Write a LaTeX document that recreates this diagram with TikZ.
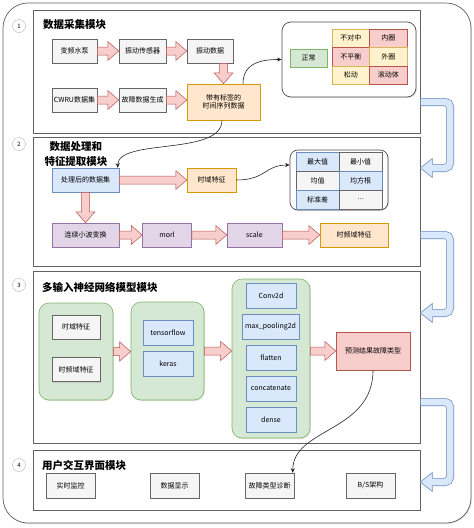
\documentclass[tikz,border=0pt]{standalone}
\usepackage{fontspec}
\setmainfont{Noto Sans CJK SC}
\usetikzlibrary{shadows,calc,arrows.meta}
\definecolor{gyf}{HTML}{F5F5F5}\definecolor{gys}{HTML}{666666}
\definecolor{blf}{HTML}{DAE8FC}\definecolor{bls}{HTML}{6C8EBF}
\definecolor{grf}{HTML}{D5E8D4}\definecolor{grs}{HTML}{82B366}
\definecolor{orf}{HTML}{FFE6CC}\definecolor{ors}{HTML}{D79B00}
\definecolor{ylf}{HTML}{FFF2CC}\definecolor{yls}{HTML}{D6B656}
\definecolor{rdf}{HTML}{F8CECC}\definecolor{rds}{HTML}{B85450}
\definecolor{puf}{HTML}{E1D5E7}\definecolor{pus}{HTML}{9673A6}
\tikzset{
 shd/.style={drop shadow={opacity=0.22,shadow xshift=0.9pt,shadow yshift=-1.1pt}},
 sz/.style 2 args={minimum width=#1,minimum height=#2},
 bx/.style={rectangle,draw,inner sep=1pt,align=center,line width=0.5pt,font=\fontsize{7}{8.5}\selectfont},
 grayb/.style={bx,shd,fill=gyf,draw=gys},
 blueb/.style={bx,shd,fill=blf,draw=bls},
 greenb/.style={bx,shd,fill=grf,draw=grs},
 orangeb/.style={bx,shd,fill=orf,draw=ors},
 redb/.style={bx,shd,fill=rdf,draw=rds},
 purpleb/.style={bx,shd,fill=puf,draw=pus},
 cellY/.style={bx,fill=ylf,draw=yls,sz={37.5}{18.5}},
 cellR/.style={bx,fill=rdf,draw=rds,sz={37.5}{18.5}},
 cellB/.style={bx,fill=blf,draw=bls,sz={43}{19}},
 cellG/.style={bx,fill=gyf,draw=gys,sz={43}{19}},
 grp/.style={rectangle,draw=black!70,fill=white,line width=0.7pt,rounded corners=9pt,shd},
 ggrp/.style={rectangle,draw=grs,fill=grf,line width=0.6pt,rounded corners=10pt,shd},
 modb/.style={rectangle,draw=black!62,fill=white,line width=0.7pt,shd},
 ttl/.style={font=\bfseries\fontsize{10.5}{15}\selectfont,inner sep=0pt,align=center},
 numc/.style={circle,draw=black!30,fill=white,minimum size=13pt,inner sep=0pt,font=\fontsize{6}{6}\selectfont},
 pinkar/.style={fill=rdf,draw=rds,line width=0.5pt,line join=miter},
 conn/.style={draw=black!85,line width=0.6pt,-{Stealth[length=4.5pt,width=4pt]}},
}
\newcommand\rar[2]{\draw[pinkar] let \p1=#1, \p2=#2 in
  (\x1,\y1+4pt) -- (\x2-11pt,\y1+4pt) -- (\x2-11pt,\y1+9.5pt) -- (\x2,\y1) --
  (\x2-11pt,\y1-9.5pt) -- (\x2-11pt,\y1-4pt) -- (\x1,\y1-4pt) -- cycle;}
\newcommand\dar[2]{\draw[pinkar] let \p1=#1, \p2=#2 in
  (\x1-4pt,\y1) -- (\x1-4pt,\y2+11pt) -- (\x1-9.5pt,\y2+11pt) -- (\x1,\y2) --
  (\x1+9.5pt,\y2+11pt) -- (\x1+4pt,\y2+11pt) -- (\x1+4pt,\y1) -- cycle;}
\newcommand\pipe[3]{%
 \draw[bls,line width=8pt,rounded corners=5pt] let \p1=#1, \p2=#3, \p3=#2 in
   (\x1,\y1) -- (\x3,\y1) -- (\x3,\y2) -- (\x2+11pt,\y2);
 \filldraw[fill=blf,draw=bls,line width=0.6pt,line join=miter] let \p2=#3 in
   (\x2+12pt,\y2+9.5pt) -- (\x2,\y2) -- (\x2+12pt,\y2-9.5pt) -- cycle;
 \draw[blf,line width=6.6pt,rounded corners=5pt] let \p1=#1, \p2=#3, \p3=#2 in
   (\x1+0.4pt,\y1) -- (\x3,\y1) -- (\x3,\y2) -- (\x2+11pt,\y2);}
\begin{document}
\begin{tikzpicture}[x=1pt,y=-1pt]
\useasboundingbox (0,0) rectangle (474,528);
\fill[white] (0,0) rectangle (474,528);
\node[modb,rounded corners=25pt,sz={468}{520}] (outer) at (237,263) {};
% ---------- module 1
\node[modb,sz={387}{123}] (m1) at (226.5,71.5) {};
\node[numc] (n1) at (19,26) {1};
\node[ttl,anchor=west] (t1) at (43,25) {数据采集模块};
\node[grayb,sz={45}{24}] (v1) at (74.5,51) {变频水泵};
\node[grayb,sz={47}{24}] (v2) at (142.5,51) {振动传感器};
\node[grayb,sz={46}{24}] (v3) at (210,51) {振动数据};
\node[grayb,sz={45}{24}] (cw) at (74.5,100) {CWRU数据集};
\node[grayb,sz={47}{24}] (g2) at (142.5,100) {故障数据生成};
\node[orangeb,sz={73}{36}] (lab) at (223.5,102) {带有标签的\\时间序列数据};
\node[grp,sz={134}{75}] (fg) at (349,59.5) {};
\node[greenb,sz={37}{18}] (ok) at (308.5,58) {正常};
\node[cellY] (f1) at (350.75,38.25) {不对中};
\node[cellR] (f2) at (388.25,38.25) {内圈};
\node[cellR] (f3) at (350.75,56.75) {不平衡};
\node[cellY] (f4) at (388.25,56.75) {外圈};
\node[cellY] (f5) at (350.75,75.25) {松动};
\node[cellR] (f6) at (388.25,75.25) {滚动体};
\rar{(v1.east)}{(v2.west)}
\rar{(v2.east)}{(v3.west)}
\rar{(cw.east)}{(g2.west)}
\rar{(g2.east)}{(g2.east -| lab.west)}
\dar{(v3.south -| lab.north)}{(lab.north)}
\draw[conn] ([xshift=19.5pt]lab.north) .. controls +(0,-22) and +(-18,0) .. (fg.west);
% ---------- module 2
\node[modb,sz={387}{129}] (m2) at (226.5,201.5) {};
\node[numc] (n2) at (19,144) {2};
\node[ttl] (t2) at (76,154) {数据处理和\\特征提取模块};
\node[blueb,sz={67}{24}] (p1) at (85.5,180) {处理后的数据集};
\node[orangeb,sz={49}{24}] (tf) at (211.5,180) {时域特征};
\node[grp,sz={98}{60},rounded corners=8pt] (sg) at (339,180) {};
\node[cellB] (s1) at (317.5,161.5) {最大值};
\node[cellG] (s2) at (360.5,161.5) {最小值};
\node[cellG] (s3) at (317.5,180.5) {均值};
\node[cellB] (s4) at (360.5,180.5) {均方根};
\node[cellB] (s5) at (317.5,199.5) {标准差};
\node[cellG] (s6) at (360.5,199.5) {...};
\node[purpleb,sz={67}{24}] (cwt) at (85.5,235) {连续小波变换};
\node[purpleb,sz={49}{24}] (mo) at (167,235) {morl};
\node[purpleb,sz={55}{24}] (sc) at (254.5,235) {scale};
\node[orangeb,sz={68}{24}] (tff) at (354,235) {时频域特征};
\rar{(p1.east)}{(tf.west)}
\dar{(p1.south)}{(cwt.north)}
\rar{(cwt.east)}{(mo.west)}
\rar{(mo.east)}{(sc.west)}
\rar{(sc.east)}{(tff.west)}
\draw[conn] ([xshift=-1.5pt]lab.south) .. controls +(0,36) and +(0,-30) .. ([xshift=-1.5pt]p1.north east);
\draw[conn] (tf.east) .. controls +(30,0) and +(-25,0) .. ([yshift=15pt]sg.west);
% ---------- module 3
\node[modb,sz={387}{172}] (m3) at (226.5,357) {};
\node[numc] (n3) at (19,285) {3};
\node[ttl,anchor=west] (t3) at (42,287) {多输入神经网络模型模块};
\node[ggrp,sz={74}{97}] (G1) at (76,351.5) {};
\node[grayb,sz={48}{24}] (a1) at (76,327) {时域特征};
\node[grayb,sz={48}{24}] (a2) at (76,369.5) {时频域特征};
\node[ggrp,sz={73}{98}] (G2) at (167.5,351) {};
\node[blueb,sz={50}{25}] (tens) at (168,332.5) {tensorflow};
\node[blueb,sz={50}{25}] (ker) at (168,363.5) {keras};
\node[ggrp,sz={78}{159}] (G3) at (271,358.5) {};
\node[blueb,sz={50}{25}] (l1) at (271,295.5) {Conv2d};
\node[blueb,sz={57}{25}] (l2) at (270.5,326.5) {max\_pooling2d};
\node[blueb,sz={50}{25}] (l3) at (271,357.5) {flatten};
\node[blueb,sz={50}{25}] (l4) at (271,388.5) {concatenate};
\node[blueb,sz={50}{25}] (l5) at (271,419.5) {dense};
\node[redb,sz={74}{38}] (pred) at (373,351) {预测结果故障类型};
\rar{(G1.east)}{(G1.east -| G2.west)}
\rar{(G2.east)}{(G2.east -| G3.west)}
\rar{(pred.west -| G3.east)}{(pred.west)}
% ---------- module 4
\node[modb,sz={387}{60}] (m4) at (226.5,480) {};
\node[numc] (n4) at (19,465) {4};
\node[ttl,anchor=west] (t4) at (42,465) {用户交互界面模块};
\node[grayb,sz={49}{25}] (u1) at (70.5,485.5) {实时监控};
\node[grayb,sz={49}{25}] (u2) at (174.5,485.5) {数据显示};
\node[grayb,sz={49}{25}] (u3) at (269.5,485.5) {故障类型诊断};
\node[grayb,sz={49}{25}] (u4) at (370.5,485.5) {B/S架构};
\draw[conn] (pred.south) .. controls +(0,62) and +(0,-45) .. ([xshift=-1.5pt]u3.north east);
% ---------- blue pipes
\coordinate (px) at (450,0);
\pipe{([yshift=-30.5pt]m1.east)}{(px)}{([yshift=33.5pt]m2.east)}
\pipe{([yshift=-33.5pt]m2.east)}{(px)}{([yshift=44pt]m3.east)}
\pipe{([yshift=-45pt]m3.east)}{(px)}{([yshift=-2pt]m4.east)}
\end{tikzpicture}
\end{document}
